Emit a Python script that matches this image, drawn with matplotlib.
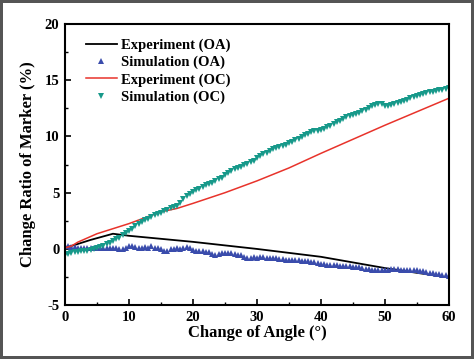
import numpy as np
import matplotlib
matplotlib.use("Agg")
import matplotlib.pyplot as plt
from matplotlib.ticker import MultipleLocator

plt.rcParams['font.family'] = ['Liberation Serif', 'DejaVu Serif']
plt.rcParams['font.weight'] = 'bold'
plt.rcParams['axes.unicode_minus'] = False

# experiment curves (line data)
exp_oa_x = [0, 1.5, 4, 7.5, 10, 15, 20, 30, 40, 50, 60]
exp_oa_y = [0.1, 0.35, 0.8, 1.35, 1.17, 0.9, 0.63, 0.0, -0.7, -1.7, -2.55]

exp_oc_x = [0, 1, 2, 5, 10, 15, 17.5, 20, 25, 30, 35, 40, 50, 60]
exp_oc_y = [0.1, 0.25, 0.6, 1.35, 2.25, 3.3, 3.6, 4.05, 5.0, 6.05, 7.2, 8.5, 11.0, 13.4]

# simulation curves, one value every 0.5 degree from 0 to 60
sim_x = np.arange(0, 60.01, 0.5)
sim_oa_y = [
    0.30, 0.25, 0.20, 0.15, 0.10, 0.05, 0.05, 0.10, 0.10, 0.10,
    0.10, 0.05, 0.10, 0.05, 0.05, 0.10, 0.10, 0.00, -0.05, 0.10,
    0.30, 0.25, 0.20, 0.10, 0.10, 0.15, 0.10, 0.25, 0.10, 0.05,
    -0.05, -0.20, -0.20, 0.00, 0.00, 0.05, 0.00, 0.10, 0.15, 0.05,
    -0.10, -0.15, -0.15, -0.20, -0.25, -0.30, -0.45, -0.50, -0.45, -0.40,
    -0.40, -0.35, -0.40, -0.45, -0.50, -0.55, -0.70, -0.80, -0.80, -0.75,
    -0.80, -0.75, -0.75, -0.80, -0.80, -0.85, -0.85, -0.90, -0.90, -0.95,
    -0.95, -0.95, -1.00, -1.00, -1.05, -1.10, -1.10, -1.15, -1.20, -1.25,
    -1.30, -1.35, -1.40, -1.40, -1.40, -1.45, -1.50, -1.50, -1.55, -1.55,
    -1.60, -1.60, -1.65, -1.70, -1.75, -1.80, -1.85, -1.85, -1.90, -1.90,
    -1.90, -1.85, -1.80, -1.75, -1.80, -1.85, -1.90, -1.85, -1.85, -1.90,
    -1.90, -1.95, -2.00, -2.05, -2.10, -2.15, -2.20, -2.25, -2.30, -2.35,
    -2.45,
]
sim_oc_y = [
    -0.50, -0.45, -0.40, -0.30, -0.25, -0.20, -0.20, -0.15, -0.10, -0.05,
    0.10, 0.20, 0.30, 0.40, 0.55, 0.70, 0.85, 1.00, 1.20, 1.40,
    1.60, 1.80, 2.00, 2.20, 2.40, 2.55, 2.70, 2.85, 3.00, 3.10,
    3.20, 3.35, 3.50, 3.60, 3.70, 3.85, 4.10, 4.40, 4.70, 4.90,
    5.10, 5.20, 5.35, 5.50, 5.65, 5.80, 5.90, 6.05, 6.20, 6.35,
    6.55, 6.75, 6.95, 7.10, 7.20, 7.30, 7.45, 7.55, 7.70, 7.85,
    8.05, 8.25, 8.40, 8.55, 8.70, 8.85, 8.95, 9.05, 9.15, 9.25,
    9.40, 9.55, 9.65, 9.80, 9.95, 10.10, 10.25, 10.40, 10.45, 10.50,
    10.60, 10.70, 10.80, 10.95, 11.10, 11.25, 11.40, 11.55, 11.70, 11.80,
    11.90, 12.00, 12.10, 12.25, 12.40, 12.55, 12.70, 12.80, 12.85, 12.85,
    12.75, 12.70, 12.80, 12.90, 13.00, 13.05, 13.15, 13.25, 13.40, 13.50,
    13.60, 13.70, 13.75, 13.90, 14.00, 13.95, 14.05, 14.10, 14.15, 14.20,
    14.30,
]

BLUE = '#3a4cac'
TEAL = '#17998a'
RED = '#e8332b'

fig = plt.figure(figsize=(4.74, 3.59), dpi=100)
fig.patch.set_edgecolor('#555555')
fig.patch.set_linewidth(3)
ax = fig.add_axes([0.137, 0.150, 0.81, 0.783])

ax.plot(exp_oa_x, exp_oa_y, color='black', lw=1.3, label='Experiment (OA)')
ax.plot(sim_x, sim_oa_y, ls='none', marker='^', ms=4.2, mew=0, color=BLUE,
        label='Simulation (OA)')
ax.plot(exp_oc_x, exp_oc_y, color=RED, lw=1.1, label='Experiment (OC)')
ax.plot(sim_x, sim_oc_y, ls='none', marker='v', ms=4.2, mew=0, color=TEAL,
        label='Simulation (OC)')

ax.set_xlim(0, 60)
ax.set_ylim(-5, 20)
ax.xaxis.set_major_locator(MultipleLocator(10))
ax.xaxis.set_minor_locator(MultipleLocator(5))
ax.yaxis.set_major_locator(MultipleLocator(5))
ax.yaxis.set_minor_locator(MultipleLocator(2.5))
ax.tick_params(which='both', direction='in', labelsize=10.5, pad=4)
ax.tick_params(which='major', length=4.5, width=1.2)
ax.tick_params(which='minor', length=2.5, width=1)
for s in ax.spines.values():
    s.set_linewidth(1.5)

ax.set_xlabel('Change of Angle (°)', fontsize=12, fontweight='bold', labelpad=1)
ax.set_ylabel('Change Ratio of Marker (%)', fontsize=12, fontweight='bold', labelpad=6)

ax.legend(loc='upper left', frameon=False, fontsize=10.5, handlelength=2.1,
          handletextpad=0.3, labelspacing=0.27, borderaxespad=0,
          bbox_to_anchor=(0.04, 0.97), markerscale=1.1)

fig.savefig('out.png', dpi=100, edgecolor=fig.get_edgecolor())
